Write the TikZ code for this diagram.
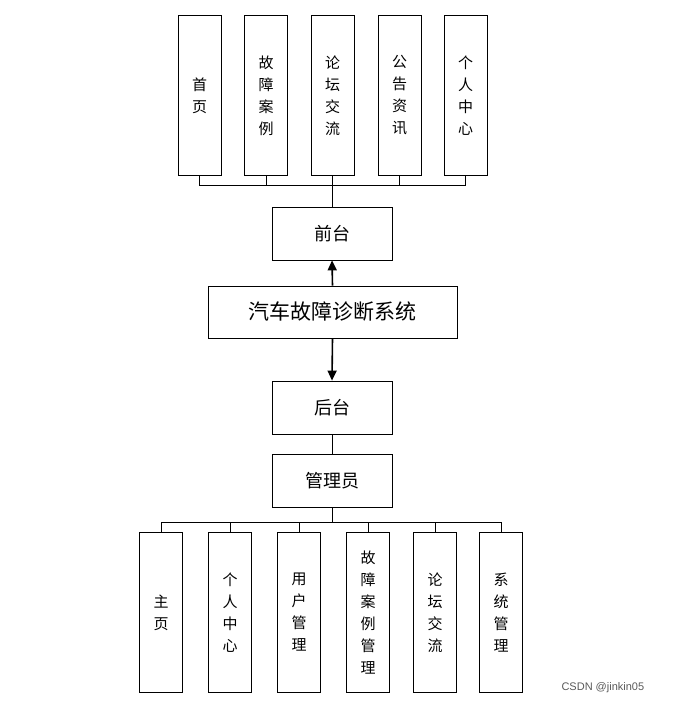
\documentclass[tikz,border=0pt]{standalone}
\usepackage{fontspec}
\newfontfamily\cjk{Noto Sans CJK SC}
\usetikzlibrary{arrows.meta}
\begin{document}
\begin{tikzpicture}[x=1pt,y=-1pt,
  vbox/.style={draw,line width=0.8pt,minimum width=43pt,minimum height=160pt,inner sep=0pt,align=center,font=\cjk\fontsize{15}{22}\selectfont},
  hbox/.style={draw,line width=0.8pt,minimum width=120pt,minimum height=53pt,inner sep=0pt,font=\cjk\fontsize{18}{22}\selectfont},
  wire/.style={line width=0.8pt},
  arr/.style={line width=1.6pt,-{Triangle[length=10pt,width=9pt]}}]
\useasboundingbox (0,0) rectangle (673,704);
% top
\node[vbox] (t1) at (199.5,95.5) {首\\页};
\node[vbox] (t2) at (266,95.5) {故\\障\\案\\例};
\node[vbox] (t3) at (332.5,95.5) {论\\坛\\交\\流};
\node[vbox] (t4) at (399.5,95.5) {公\\告\\资\\讯};
\node[vbox] (t5) at (465.5,95.5) {个\\人\\中\\心};
\node[hbox] (qt) at (332,233.5) {前台};
\node[draw,line width=0.8pt,minimum width=249pt,minimum height=52pt,font=\cjk\fontsize{21}{24}\selectfont] (sys) at (332.5,312) {汽车故障诊断系统};
\node[hbox] (ht) at (332,407.5) {后台};
\node[hbox] (gl) at (332,481) {管理员};
\coordinate (tb) at (332,185);
\foreach \n in {t1,t2,t3,t4,t5} \draw[wire] (\n.south) |- (tb);
\draw[wire] (t1.south |- tb) -- (t5.south |- tb);
\draw[wire] (tb) -- (qt.north);
\draw[arr] (sys.north) -- (qt.south);
\draw[arr] (sys.south) -- (ht.north);
\draw[wire] (ht.south) -- (gl.north);
% bottom
\node[vbox] (b1) at (161,612.5) {主\\页};
\node[vbox] (b2) at (230,612.5) {个\\人\\中\\心};
\node[vbox] (b3) at (299,612.5) {用\\户\\管\\理};
\node[vbox] (b4) at (368,612.5) {故\\障\\案\\例\\管\\理};
\node[vbox] (b5) at (435,612.5) {论\\坛\\交\\流};
\node[vbox] (b6) at (501,612.5) {系\\统\\管\\理};
\coordinate (bb) at (332,522);
\draw[wire] (gl.south) -- (bb);
\draw[wire] (b1.north |- bb) -- (b6.north |- bb);
\foreach \n in {b1,b2,b3,b4,b5,b6} \draw[wire] (\n.north) -- (\n.north |- bb);
\node[font=\fontspec{Liberation Sans}\fontsize{11}{13}\selectfont,text=black!65,anchor=west] (wm) at (558,688) {CSDN @jinkin05};
\end{tikzpicture}
\end{document}
